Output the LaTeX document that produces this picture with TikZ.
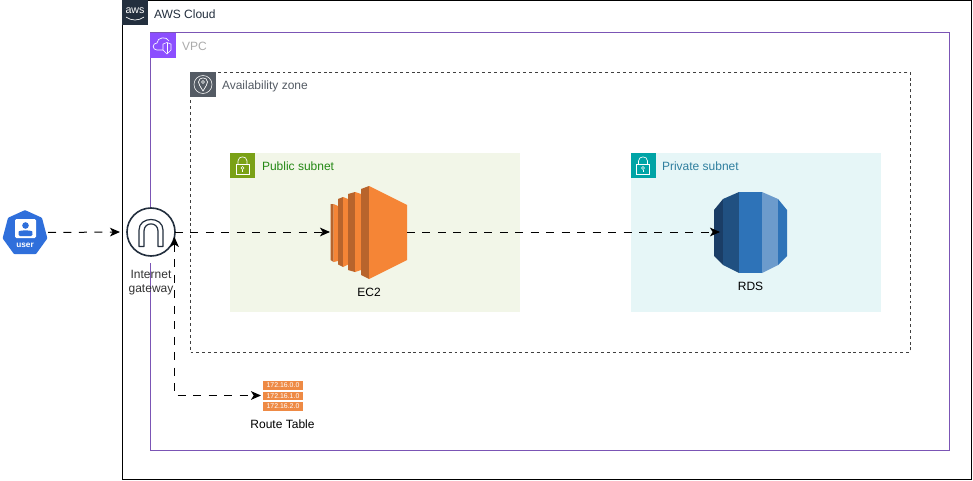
\documentclass[tikz,border=0pt]{standalone}
\usepackage{fontspec}
\setmainfont{Liberation Sans}
\usetikzlibrary{arrows.meta}
\definecolor{awsdark}{HTML}{232F3E}
\definecolor{vpcpurple}{HTML}{8C4FFF}
\definecolor{vpcline}{HTML}{7B55B5}
\definecolor{azgrey}{HTML}{545B64}
\definecolor{pubgreen}{HTML}{7AA116}
\definecolor{pubtext}{HTML}{248814}
\definecolor{pubfill}{HTML}{F2F6E8}
\definecolor{privteal}{HTML}{00A4A6}
\definecolor{privtext}{HTML}{2F7F9F}
\definecolor{privfill}{HTML}{E6F6F7}
\definecolor{ecA}{HTML}{F58536}
\definecolor{ecB}{HTML}{B8642C}
\definecolor{rdsA}{HTML}{1A3D66}
\definecolor{rdsB}{HTML}{205081}
\definecolor{rdsC}{HTML}{2E73B8}
\definecolor{rdsD}{HTML}{6C9BCC}
\definecolor{userblue}{HTML}{2F6FDB}
\definecolor{rtorange}{HTML}{EE8A45}
\tikzset{
  x=0.75pt,y=-0.75pt,
  outer sep=0pt,
  lbl/.style={font=\fontsize{9}{10.5}\selectfont,inner sep=0pt},
  anchorbox/.style={inner sep=0pt,minimum width=#1*0.75pt},
  flow/.style={draw=black,line width=0.75pt,dash pattern=on 6pt off 5.6pt,
    -{Stealth[length=7.5pt,width=6.5pt,inset=2pt]}},
  flowboth/.style={draw=black,line width=0.75pt,dash pattern=on 6pt off 5.6pt,
    {Stealth[length=7.5pt,width=6.5pt,inset=2pt]}-{Stealth[length=7.5pt,width=6.5pt,inset=2pt]}},
  lockicon/.pic={
    \fill[#1] (0,0) rectangle (25,25);
    \draw[white,line width=0.5pt] (6,11) rectangle (19,21);
    \draw[white,line width=0.5pt] (8,11) -- (8,8) .. controls (8,2.5) and (17,2.5) .. (17,8) -- (17,11);
    \draw[white,line width=0.4pt] (12.5,15) circle[radius=1.6];
    \draw[white,line width=0.4pt] (12.5,16.6) -- (12.5,19);
  },
}
\begin{document}
\begin{tikzpicture}
\useasboundingbox (0,0) rectangle (973,481);
\fill[white] (0,0) rectangle (973,481);
% containers
\node[draw=black,line width=0.75pt,inner sep=0pt,minimum width=637.1pt,minimum height=359.6pt,anchor=north west] (cloud) at (122.5,0.5) {};
\node[draw=vpcline,line width=0.75pt,inner sep=0pt,minimum width=599.25pt,minimum height=312.75pt,anchor=north west] (vpc) at (150.5,33) {};
\node[draw=black!75,line width=0.5pt,dash pattern=on 2.2pt off 2.2pt,inner sep=0pt,minimum width=540pt,minimum height=210pt,anchor=north west] (az) at (190.5,72) {};
\node[fill=pubfill,inner sep=0pt,minimum width=217.5pt,minimum height=119.25pt,anchor=north west] (pub) at (230,153) {};
\node[fill=privfill,inner sep=0pt,minimum width=187.5pt,minimum height=119.25pt,anchor=north west] (priv) at (630.5,153) {};
% header icons
\fill[awsdark] (122,0) rectangle (148,25);
\node[font=\fontsize{8}{8}\selectfont,text=white,inner sep=0pt] (awslogo) at (135,10.5) {aws};
\draw[white,line width=0.5pt] (126,17) .. controls (131,21) and (139,21) .. (144,17);
\fill[vpcpurple] (150,33) rectangle (176,58);
\draw[white,line width=0.5pt] (164,50) -- (157,50) .. controls (152,50) and (152,43) .. (157,43) .. controls (157,37) and (167,36) .. (169,41);
\draw[white,line width=0.4pt,fill=vpcpurple] (163,44) -- (167,42.5) -- (171,44) -- (171,50) -- (167,54) -- (163,50) -- cycle;
\draw[white,line width=0.4pt] (167,43) -- (167,53.5);
\fill[azgrey] (190,72) rectangle (216,97);
\draw[white,line width=0.4pt] (203,84.5) circle[radius=9];
\draw[white,line width=0.5pt] (203,91) .. controls (200,86) and (198.5,84) .. (198.5,82) .. controls (198.5,76.5) and (207.5,76.5) .. (207.5,82) .. controls (207.5,84) and (206,86) .. (203,91) -- cycle;
\draw[white,line width=0.4pt] (203,82) circle[radius=1.4];
\pic at (230,153) {lockicon=pubgreen};
\pic at (630.5,153) {lockicon=privteal};
% container labels
\node[lbl,anchor=west,text=awsdark] (cloudlbl) at (154,14) {AWS Cloud};
\node[lbl,anchor=west,text=black!33] (vpclbl) at (182,46) {VPC};
\node[lbl,anchor=west,text=azgrey] (azlbl) at (222,86) {Availability zone};
\node[lbl,anchor=west,text=pubtext] (publbl) at (262,166) {Public subnet};
\node[lbl,anchor=west,text=privtext] (privlbl) at (662,166) {Private subnet};
% user
\node[anchorbox=46,minimum height=34.5pt] (user) at (25,232.5) {};
\fill[userblue,draw=userblue,line width=2.6pt,line join=round] (25,212) -- (40.5,219) -- (45.5,238) -- (35,252.5) -- (15,252.5) -- (4.5,238) -- (9.5,219) -- cycle;
\fill[white,rounded corners=1pt] (15,219) rectangle (36,238);
\fill[userblue] (25.5,225.5) circle[radius=3.3];
\fill[userblue,rounded corners=1pt] (18.5,236) -- (18.5,233) .. controls (19,230) and (32,230) .. (32.5,233) -- (32.5,236) -- cycle;
\node[font=\bfseries\fontsize{6.2}{7}\selectfont,text=white,inner sep=0pt] (userlbl) at (25,245.5) {user};
% internet gateway
\fill[white] (127,208) rectangle (175,263);
\node[circle,draw=awsdark,fill=white,line width=1.2pt,inner sep=0pt,minimum size=36pt] (igw) at (151,232) {};
\draw[awsdark,line width=0.9pt,line join=round] (139,246.5) -- (139,230) .. controls (139,216) and (163,216) .. (163,230) -- (163,246.5) -- (158,246.5) -- (158,231) .. controls (158,221.5) and (144,221.5) .. (144,231) -- (144,246.5) -- cycle;
\node[lbl,align=center,text=black!80] (igwlbl) at (151,283) {Internet\\gateway};
\coordinate (igwport) at (174.5,237);
\coordinate (igwin) at (120,232);
% EC2
\node[anchorbox=77,minimum height=69.75pt] (ec2) at (368.5,232) {};
\fill[ecB] (330.5,204) -- (333.5,204) -- (333.5,262) -- (330.5,260) -- cycle;
\fill[ecA] (333.5,204) -- (338,206) -- (338,261) -- (333.5,262) -- cycle;
\fill[ecB] (338,199) -- (343,197) -- (343,267) -- (338,264.5) -- cycle;
\fill[ecA] (343,197) -- (348,199) -- (348,264.5) -- (343,267) -- cycle;
\fill[ecB] (348,194) -- (355,192) -- (355,272) -- (348,270) -- cycle;
\fill[ecA] (355,192) -- (361,194) -- (361,270) -- (355,272) -- cycle;
\fill[ecB] (361,189) -- (369,186) -- (369,279) -- (361,275) -- cycle;
\fill[ecA] (369,186) -- (407,205) -- (407,260) -- (369,279) -- cycle;
\node[lbl,text=black] (ec2lbl) at (369,292) {EC2};
% RDS
\node[anchorbox=73,minimum height=60.75pt] (rds) at (750.5,232.5) {};
\fill[rdsA] (714,210) -- (723,199) -- (723,265) -- (714,256) -- cycle;
\fill[rdsB] (723,199) -- (739,192) -- (739,273) -- (723,265) -- cycle;
\fill[rdsC] (739,192) rectangle (762,273);
\fill[rdsD] (762,192) -- (778,199) -- (778,265) -- (762,273) -- cycle;
\fill[rdsC] (778,199) -- (787,210) -- (787,256) -- (778,265) -- cycle;
\coordinate (rdsport) at (720,232);
\node[lbl,text=black] (rdslbl) at (750.5,286.5) {RDS};
% route table
\node[anchorbox=40,minimum height=22.5pt] (rt) at (281,395.5) {};
\fill[rtorange] (263,381) rectangle (303,389.5);
\fill[rtorange] (263,391.5) rectangle (303,400);
\fill[rtorange] (263,402) rectangle (303,411);
\node[font=\fontsize{5.2}{5.5}\selectfont,text=white,inner sep=0pt] (rtA) at (283,385.2) {172.16.0.0};
\node[font=\fontsize{5.2}{5.5}\selectfont,text=white,inner sep=0pt] (rtB) at (283,395.7) {172.16.1.0};
\node[font=\fontsize{5.2}{5.5}\selectfont,text=white,inner sep=0pt] (rtC) at (283,406.5) {172.16.2.0};
\node[lbl,text=black] (rtlbl) at (282.5,424) {Route Table};
% connectors
\draw[flow] (user.east) -- (igwin);
\draw[flow] (igw.east) -- (ec2.west);
\draw[flow] (ec2.east) -- (rdsport);
\draw[flowboth] (igwport) |- (rt.west);
\end{tikzpicture}
\end{document}
